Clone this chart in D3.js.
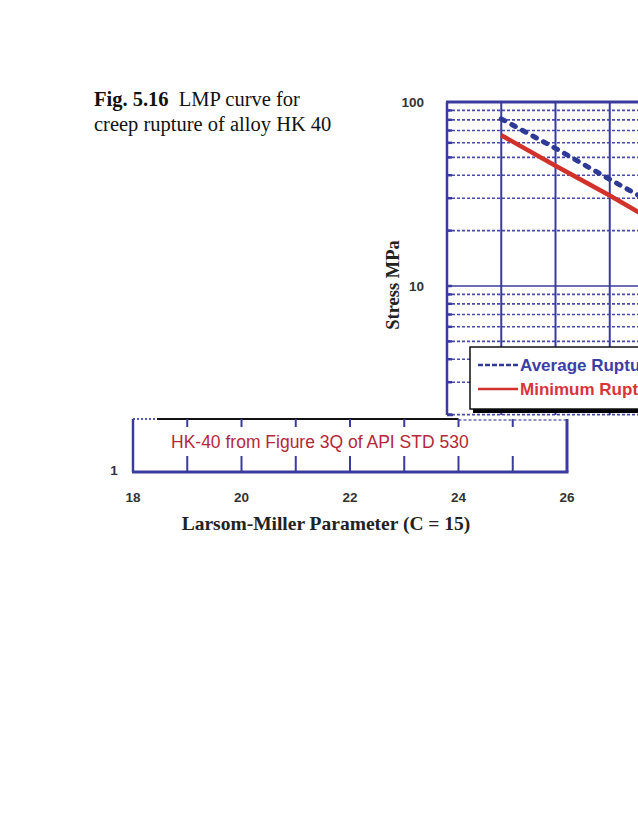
<!DOCTYPE html>
<html><head><meta charset="utf-8">
<script src="https://cdn.jsdelivr.net/npm/d3@7/dist/d3.min.js"></script>
<style>html,body{margin:0;padding:0;background:#fff;}svg{display:block;}</style>
</head><body>
<svg id="chart" width="638" height="826"></svg>
<script>
// ---- data ----
const lmpDomain = [18, 26];
const lmpTicks = [19, 20, 21, 22, 23, 24, 25];
const lmpLabels = [18, 20, 22, 24, 26];
const stressDomain = [1, 100];
const stressMinor = [2,3,4,5,6,7,8,9,20,30,40,50,60,70,80,90];
const stressLabels = [100, 10, 1];
const curveLMP = [19, 20, 21, 22, 23];
const avgRupture = [81, 56, 38, 26, 18];
const minRupture = [66, 45, 31, 21, 14.5];
const seriesNames = ["Average Rupture", "Minimum Rupture"];

const BLUE = "#3b3b9e", RED = "#d2322c", NAVY = "#2f3a96";
const svg = d3.select("#chart");

// scales
const y = d3.scaleLog().domain(stressDomain).range([470, 102]);
const xLow = d3.scaleLinear().domain(lmpDomain).range([133, 567]);
const xUp = d3.scaleLinear().domain(lmpDomain).range([447, 881]);
const upBottom = 415, W = 638;

// ---- title ----
const t = svg.append("text").attr("x", 94).attr("y", 106)
  .attr("font-family", "Liberation Serif, Times New Roman, serif").attr("font-size", 20.5).attr("fill", "#111");
t.append("tspan").attr("font-weight", "bold").text("Fig. 5.16");
t.append("tspan").text("\u2002LMP curve for");
svg.append("text").attr("x", 94).attr("y", 131)
  .attr("font-family", "Liberation Serif, Times New Roman, serif").attr("font-size", 20.5).attr("fill", "#111")
  .text("creep rupture of alloy HK 40");

// ---- upper panel ----
const up = svg.append("g");
up.selectAll("line.minor").data(stressMinor.filter(v => y(v) < upBottom)).enter().append("line")
  .attr("x1", xUp(18)).attr("x2", W).attr("y1", d => y(d)).attr("y2", d => y(d))
  .attr("stroke", "#4a4aa8").attr("stroke-width", 1.6).attr("stroke-dasharray", "3,2");
up.append("line").attr("x1", xUp(18)).attr("x2", W).attr("y1", y(10)).attr("y2", y(10))
  .attr("stroke", BLUE).attr("stroke-width", 1.6);
up.selectAll("line.lt").data(stressMinor.concat([10]).filter(v => y(v) < upBottom)).enter().append("line")
  .attr("x1", xUp(18)).attr("x2", xUp(18) + 5).attr("y1", d => y(d)).attr("y2", d => y(d))
  .attr("stroke", BLUE).attr("stroke-width", 2.5);
up.selectAll("line.vg").data(lmpTicks.filter(v => xUp(v) < W)).enter().append("line")
  .attr("x1", d => xUp(d)).attr("x2", d => xUp(d)).attr("y1", y(100)).attr("y2", upBottom)
  .attr("stroke", BLUE).attr("stroke-width", 2);
up.append("line").attr("x1", xUp(18) - 1).attr("x2", W).attr("y1", y(100)).attr("y2", y(100))
  .attr("stroke", BLUE).attr("stroke-width", 3);
up.append("line").attr("x1", xUp(18)).attr("x2", xUp(18)).attr("y1", y(100)).attr("y2", upBottom)
  .attr("stroke", BLUE).attr("stroke-width", 2.5);
up.append("line").attr("x1", xUp(18)).attr("x2", xUp(18) + 6).attr("y1", upBottom).attr("y2", upBottom)
  .attr("stroke", BLUE).attr("stroke-width", 2.5);

// curves
const line = d3.line().x((d, i) => xUp(curveLMP[i])).y(d => y(d));
up.append("path").datum(minRupture).attr("d", line).attr("fill", "none")
  .attr("stroke", RED).attr("stroke-width", 4.5);
up.append("path").datum(avgRupture).attr("d", line).attr("fill", "none")
  .attr("stroke", NAVY).attr("stroke-width", 5).attr("stroke-linecap", "round").attr("stroke-dasharray", "4,8");

// y labels
svg.selectAll("text.yl").data(stressLabels.filter(v => v > 1)).enter().append("text")
  .attr("x", 424).attr("y", d => y(d) + 5).attr("text-anchor", "end")
  .attr("font-family", "Liberation Sans, Arial, sans-serif").attr("font-weight", "bold").attr("font-size", 13.5)
  .attr("fill", "#333").text(d => d);
svg.append("text").attr("transform", "translate(399,285) rotate(-90)").attr("text-anchor", "middle")
  .attr("font-family", "Liberation Serif, Times New Roman, serif").attr("font-weight", "bold").attr("font-size", 18.5)
  .attr("fill", "#222").text("Stress MPa");

// legend
const lg = svg.append("g");
lg.append("rect").attr("x", 473).attr("y", 351).attr("width", 200).attr("height", 62).attr("fill", "#000");
lg.append("rect").attr("x", 470).attr("y", 347).attr("width", 200).attr("height", 62)
  .attr("fill", "#fff").attr("stroke", "#111").attr("stroke-width", 1.5);
lg.append("line").attr("x1", 478).attr("x2", 518).attr("y1", 365).attr("y2", 365)
  .attr("stroke", NAVY).attr("stroke-width", 2.5).attr("stroke-dasharray", "5,2");
lg.append("line").attr("x1", 478).attr("x2", 518).attr("y1", 389).attr("y2", 389)
  .attr("stroke", RED).attr("stroke-width", 2.5);
lg.selectAll("text").data(seriesNames).enter().append("text")
  .attr("x", 520).attr("y", (d, i) => 371 + i * 24)
  .attr("font-family", "Liberation Sans, Arial, sans-serif").attr("font-weight", "bold").attr("font-size", 17)
  .attr("fill", (d, i) => i === 0 ? "#3d3da6" : "#d8343a").text(d => d);

// ---- lower box ----
const low = svg.append("g");
const bTop = 419, bBot = 472;
low.append("line").attr("x1", xLow(18)).attr("x2", 157).attr("y1", bTop).attr("y2", bTop)
  .attr("stroke", "#5a5ab0").attr("stroke-width", 2).attr("stroke-dasharray", "2,2");
low.append("line").attr("x1", 157).attr("x2", xLow(24)).attr("y1", bTop).attr("y2", bTop)
  .attr("stroke", "#111").attr("stroke-width", 1.8);
low.append("line").attr("x1", xLow(24)).attr("x2", xLow(26)).attr("y1", bTop + 1).attr("y2", bTop + 1)
  .attr("stroke", "#6a6ab8").attr("stroke-width", 1.6).attr("stroke-dasharray", "3,2");
low.append("line").attr("x1", xLow(18)).attr("x2", xLow(18)).attr("y1", bTop).attr("y2", bBot)
  .attr("stroke", BLUE).attr("stroke-width", 2.5);
low.append("line").attr("x1", xLow(26)).attr("x2", xLow(26)).attr("y1", bTop).attr("y2", bBot)
  .attr("stroke", BLUE).attr("stroke-width", 3);
low.append("line").attr("x1", xLow(18) - 1).attr("x2", xLow(26) + 1.5).attr("y1", bBot).attr("y2", bBot)
  .attr("stroke", BLUE).attr("stroke-width", 3);
low.selectAll("line.tt").data(lmpTicks).enter().append("line")
  .attr("x1", d => xLow(d)).attr("x2", d => xLow(d)).attr("y1", bTop).attr("y2", bTop + 8)
  .attr("stroke", BLUE).attr("stroke-width", 2);
low.selectAll("line.bt").data(lmpTicks).enter().append("line")
  .attr("x1", d => xLow(d)).attr("x2", d => xLow(d)).attr("y1", bBot - 16).attr("y2", bBot)
  .attr("stroke", BLUE).attr("stroke-width", 2);
low.append("text").attr("x", 171).attr("y", 448)
  .attr("font-family", "Liberation Sans, Arial, sans-serif").attr("font-size", 17.5).attr("fill", "#b3283a")
  .text("HK-40 from Figure 3Q of API STD 530");
svg.append("text").attr("x", 114).attr("y", 475).attr("text-anchor", "middle")
  .attr("font-family", "Liberation Sans, Arial, sans-serif").attr("font-weight", "bold").attr("font-size", 13.5)
  .attr("fill", "#333").text(stressLabels[2]);
svg.selectAll("text.xl").data(lmpLabels).enter().append("text")
  .attr("x", d => xLow(d)).attr("y", 502).attr("text-anchor", "middle")
  .attr("font-family", "Liberation Sans, Arial, sans-serif").attr("font-weight", "bold").attr("font-size", 13.5)
  .attr("fill", "#333").text(d => d);
svg.append("text").attr("x", 326).attr("y", 530).attr("text-anchor", "middle")
  .attr("font-family", "Liberation Serif, Times New Roman, serif").attr("font-weight", "bold").attr("font-size", 19.5)
  .attr("fill", "#222").text("Larsom-Miller Parameter (C = 15)");
</script>
</body></html>
